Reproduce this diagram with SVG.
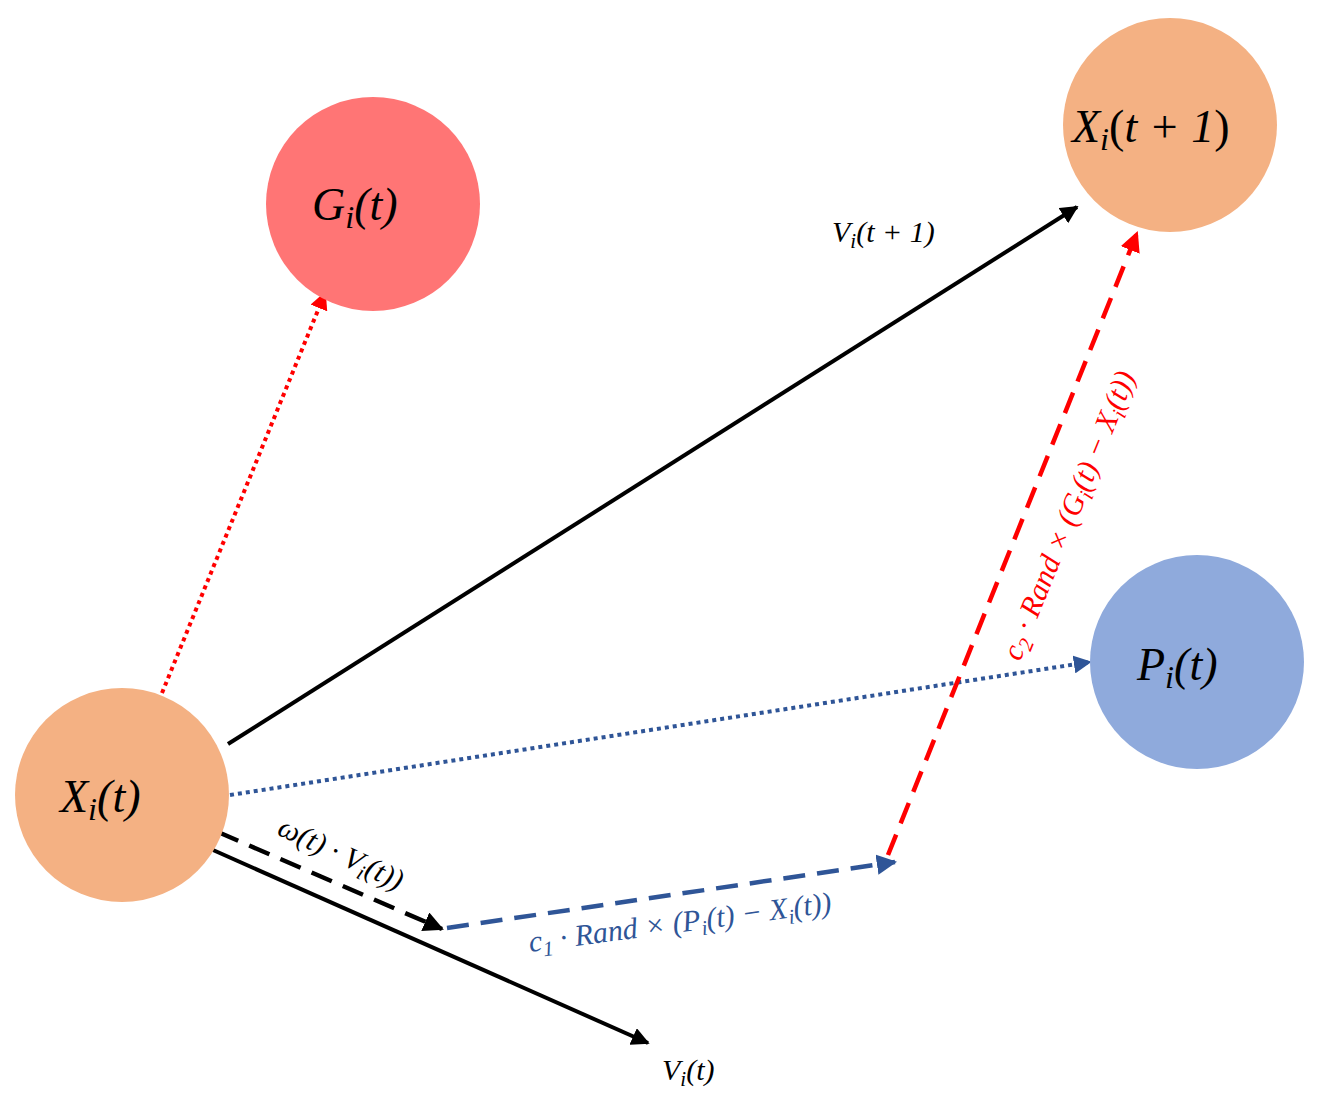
<svg xmlns="http://www.w3.org/2000/svg" width="1321" height="1108" viewBox="0 0 1321 1108">
<style>
text{font-family:"Liberation Serif","DejaVu Serif",serif;font-style:italic}
.n{font-size:46px;fill:#000}
.s{font-size:30px}
.sub{font-size:70%}
</style>
<defs>
<marker id="ak" viewBox="0 0 10 10" refX="9" refY="5" markerWidth="4.5" markerHeight="4.5" orient="auto"><path d="M0,0L10,5L0,10z" fill="#000"/></marker>
<marker id="ar" viewBox="0 0 10 10" refX="9" refY="5" markerWidth="4.5" markerHeight="4.5" orient="auto"><path d="M0,0L10,5L0,10z" fill="#f00"/></marker>
<marker id="ab" viewBox="0 0 10 10" refX="9" refY="5" markerWidth="4.5" markerHeight="4.5" orient="auto"><path d="M0,0L10,5L0,10z" fill="#2f5597"/></marker>
</defs>
<rect width="1321" height="1108" fill="#fff"/>
<g id="connectors" fill="none">
<line x1="162" y1="693" x2="325" y2="293" stroke="#f00" stroke-width="4" stroke-dasharray="4 4" marker-end="url(#ar)"/>
<line x1="228" y1="744" x2="1077" y2="207" stroke="#000" stroke-width="4" marker-end="url(#ak)"/>
<line x1="230" y1="795" x2="1090" y2="662" stroke="#2f5597" stroke-width="4" stroke-dasharray="4 4" marker-end="url(#ab)"/>
<line x1="218" y1="832" x2="442" y2="929" stroke="#000" stroke-width="4.5" stroke-dasharray="22 12" marker-end="url(#ak)"/>
<line x1="213" y1="850" x2="648" y2="1043" stroke="#000" stroke-width="4" marker-end="url(#ak)"/>
<line x1="447" y1="928" x2="895" y2="862" stroke="#2f5597" stroke-width="4.5" stroke-dasharray="22 12" marker-end="url(#ab)"/>
<line x1="888" y1="855" x2="1137" y2="233" stroke="#f00" stroke-width="4.5" stroke-dasharray="22 12" marker-end="url(#ar)"/>
</g>
<g id="Gi"><circle cx="373" cy="204" r="107" fill="#ff7575"/><text class="n" x="312" y="220">G<tspan class="sub" dy="8">i</tspan><tspan dy="-8">(t)</tspan></text></g>
<g id="Xt1"><circle cx="1170" cy="125" r="107" fill="#f4b183"/><text class="n" x="1072" y="142">X<tspan class="sub" dy="8">i</tspan><tspan dy="-8" font-style="normal">(</tspan>t + 1<tspan font-style="normal">)</tspan></text></g>
<g id="Pi"><circle cx="1197" cy="662" r="107" fill="#8faadc"/><text class="n" x="1137" y="680">P<tspan class="sub" dy="8">i</tspan><tspan dy="-8">(t)</tspan></text></g>
<g id="Xi"><circle cx="122" cy="795" r="107" fill="#f4b183"/><text class="n" x="60" y="812">X<tspan class="sub" dy="8">i</tspan><tspan dy="-8">(t)</tspan></text></g>
<g id="labels">
<text class="s" x="832" y="242">V<tspan class="sub" dy="6">i</tspan><tspan dy="-6">(t + 1)</tspan></text>
<text class="s" x="662" y="1080">V<tspan class="sub" dy="6">i</tspan><tspan dy="-6">(t)</tspan></text>
<text class="s" font-size="26" transform="translate(276,834) rotate(25)">ω(t) · V<tspan class="sub" dy="6">i</tspan><tspan dy="-6">(t))</tspan></text>
<text class="s" fill="#2f5597" font-size="28" transform="translate(530,952) rotate(-7.5)">c<tspan class="sub" dy="6">1</tspan><tspan dy="-6"> · Rand × (P</tspan><tspan class="sub" dy="6">i</tspan><tspan dy="-6">(t) − X</tspan><tspan class="sub" dy="6">i</tspan><tspan dy="-6">(t))</tspan></text>
<text class="s" fill="#f00" font-size="28" transform="translate(1020,662) rotate(-68)">c<tspan class="sub" dy="6">2</tspan><tspan dy="-6"> · Rand × (G</tspan><tspan class="sub" dy="6">i</tspan><tspan dy="-6">(t) − X</tspan><tspan class="sub" dy="6">i</tspan><tspan dy="-6">(t))</tspan></text>
</g>
</svg>
